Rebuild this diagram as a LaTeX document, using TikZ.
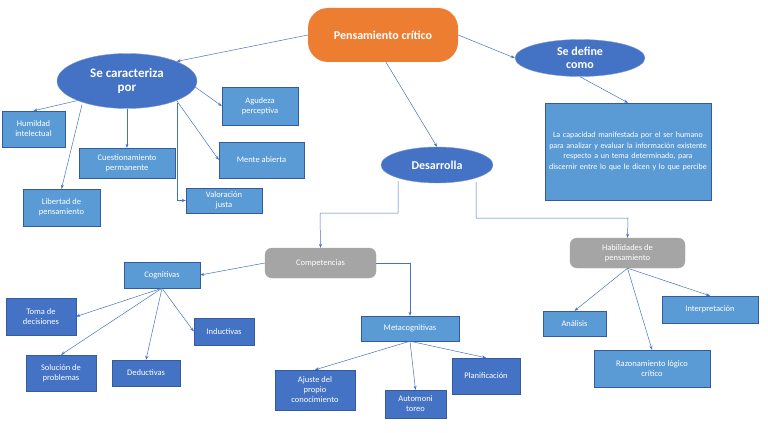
\documentclass[tikz,border=0pt]{standalone}
\usepackage{fontspec}
\setmainfont{Carlito}
\usetikzlibrary{shapes.geometric,arrows.meta}
\definecolor{lb}{HTML}{5B9BD5}
\definecolor{db}{HTML}{4472C4}
\definecolor{or}{HTML}{ED7D31}
\definecolor{gr}{HTML}{A5A5A5}
\begin{document}
\begin{tikzpicture}[x=1pt,y=-1pt,
 base/.style={text=white,font=\fontsize{8.5}{10}\selectfont,align=center,inner sep=1pt,draw=db!80!black,line width=0.4pt},
 lbox/.style={base,fill=lb},
 dbox/.style={base,fill=db},
 ell/.style={ellipse,fill=db,draw=db!70!white,text=white,font=\fontsize{13}{14}\selectfont\bfseries,align=center,inner sep=0pt},
 gbox/.style={base,fill=gr,draw=gr,rounded corners=7pt},
 ar/.style={draw=db,line width=0.5pt,-{Stealth[length=4pt,width=3pt]}}]
\useasboundingbox (0,0) rectangle (768,433);
\newcommand{\bx}[6]{\node[#1,minimum width=#4,minimum height=#5] (#2) at (#3) {#6};}
\node[fill=or,rounded corners=20pt,minimum width=150,minimum height=54,text=white,font=\fontsize{12}{14}\selectfont\bfseries] (pc) at (383,35) {Pensamiento crítico};
\node[ell,minimum width=140,minimum height=55] (car) at (127,81) {Se caracteriza\\por};
\node[ell,minimum width=130,minimum height=37,font=\fontsize{12}{13}\selectfont\bfseries] (def) at (580,58) {Se define\\como};
\node[ell,minimum width=112,minimum height=36,font=\fontsize{12}{13}\selectfont\bfseries] (des) at (437,165) {Desarrolla};
\bx{lbox}{hum}{33.5,129}{63}{36}{Humildad\\intelectual}
\bx{lbox}{cue}{127,163}{96}{30}{Cuestionamiento\\permanente}
\bx{lbox}{lib}{61.5,207.5}{77}{37}{Libertad de\\pensamiento}
\bx{lbox}{agu}{260,106}{76}{38}{Agudeza\\perceptiva}
\bx{lbox}{men}{261.5,160}{85}{36}{Mente abierta}
\bx{lbox}{val}{224,200.5}{76}{25}{Valoración\\justa}
\node[lbox,minimum width=166,minimum height=97,text width=160,font=\fontsize{8}{10.5}\selectfont] (txt) at (628,151.5) {La capacidad manifestada por el ser humano para analizar y evaluar la información existente respecto a un tema determinado, para discernir entre lo que le dicen y lo que percibe};
\bx{gbox}{com}{320.5,263}{111}{30}{Competencias}
\bx{lbox}{cog}{162,275}{76}{26}{Cognitivas}
\bx{lbox}{met}{410,328.5}{98}{25}{Metacognitivas}
\bx{dbox}{tom}{41,316.5}{70}{37}{Toma de\\decisiones}
\bx{dbox}{sol}{61,373}{70}{36}{Solución de\\problemas}
\bx{dbox}{ded}{146,373}{68}{26}{Deductivas}
\bx{dbox}{ind}{224,331.5}{60}{27}{Inductivas}
\bx{dbox}{aju}{315,390}{80}{40}{Ajuste del\\propio\\conocimiento}
\bx{dbox}{aut}{415.5,404}{61}{28}{Automoni\\toreo}
\bx{dbox}{pla}{486,376}{68}{36}{Planificación}
\bx{gbox}{hab}{627.5,253}{115}{30}{Habilidades de\\pensamiento}
\bx{lbox}{ana}{574.5,323.5}{63}{25}{Análisis}
\bx{lbox}{int}{710,309.5}{96}{27}{Interpretación}
\bx{lbox}{raz}{652,368.5}{116}{37}{Razonamiento lógico\\crítico}
\coordinate (c1) at (60,90);
\draw[ar] (pc.west) -- (car.north east);
\draw[ar] (pc.east) -- (def.west);
\draw[ar] (pc.south) ++(3,0) -- (des.north);
\draw[ar] (def.south) -- (txt.north);
\draw[ar] (car.south west) -- (hum.north);
\draw[ar] (car.south) ++(-45,-4) -- (lib.north);
\draw[ar] (car.south) -- (cue.north);
\draw[ar] (car.east) ++(-2,6) -- (agu.west);
\draw[ar] (car.south east) -- (men.west);
\draw[ar] (177,103) |- (val.west);
\draw[ar] (398,181) |- (320,213) -- (com.north);
\draw[ar] (476,182) |- (628,218) -- (hab.north);
\draw[ar] (com.east) -| (met.north);
\draw[ar] (com.west) -- (cog.east);
\draw[ar] (cog.south) -- (tom.east);
\draw[ar] (cog.south) -- (sol.north);
\draw[ar] (cog.south) -- (ded.north);
\draw[ar] (cog.south) -- (ind.west);
\draw[ar] (met.south) -- (aju.north);
\draw[ar] (met.south) -- (aut.north);
\draw[ar] (met.south) -- (pla.north);
\draw[ar] (hab.south) -- (ana.north);
\draw[ar] (hab.south) -- (int.north);
\draw[ar] (hab.south) -- (raz.north);
\end{tikzpicture}
\end{document}
